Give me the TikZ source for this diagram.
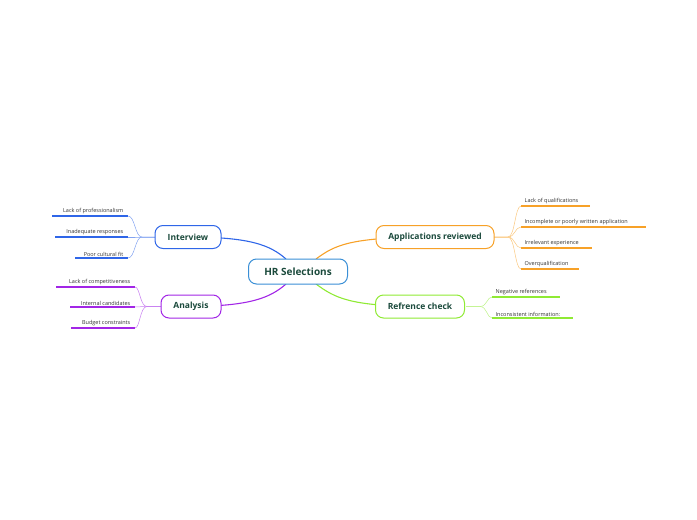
\documentclass[tikz,border=0pt]{standalone}
\usepackage{fontspec}
\setmainfont{Open Sans}
\begin{document}
\begin{tikzpicture}[x=1pt,y=-1pt,
  box/.style={draw,rounded corners=8pt,line width=1pt,fill=white,minimum height=23pt,inner xsep=8pt,font=\fontsize{8.5}{10}\selectfont\bfseries,text=txt},
  leaf/.style={inner sep=1.5pt,font=\fontsize{5.5}{6}\selectfont,text=black!80},
  main/.style={line width=1.1pt},
  sub/.style={line width=0.5pt},
  ul/.style={line width=1.3pt}]
\definecolor{txt}{HTML}{1B4A3C}
\definecolor{cb}{HTML}{2F66E8}
\definecolor{cp}{HTML}{A226E6}
\definecolor{co}{HTML}{F7A128}
\definecolor{cg}{HTML}{8FEA34}
\definecolor{cc}{HTML}{3A8FD6}
\useasboundingbox (0,0) rectangle (697,520);
\coordinate (c1) at (286,259);
\coordinate (c2) at (286,284);
\coordinate (c3) at (316,259);
\coordinate (c4) at (316,284);
\draw[main,cb] (188,237) .. controls (250,237) and (270,245) .. (c1);
\draw[main,cp] (191,306.5) .. controls (250,306) and (270,298) .. (c2);
\draw[main,co] (435,237) .. controls (350,237) and (335,245) .. (c3);
\draw[main,cg] (420,306.5) .. controls (350,306) and (335,298) .. (c4);
% left leaves
\foreach \n/\t/\y/\xa/\xb/\col/\bx/\by in {
  l1/Lack of professionalism/216/52/128/cb/142/237,
  l2/Inadequate responses/237/55/128/cb/142/237,
  l3/Poor cultural fit/258/75/128/cb/142/237,
  l4/Lack of competitiveness/287/56/135/cp/147/306.5,
  l5/Internal candidates/307/70/135/cp/147/306.5,
  l6/Budget constraints/328/71/135/cp/147/306.5}{
  \coordinate (\n a) at (\xa,\y); \coordinate (\n b) at (\xb,\y);
  \coordinate (\n p) at (\bx,\by);
  \node[leaf,anchor=south east] (\n) at (\xb-3,\y) {\t};
  \draw[ul,\col] (\n a) -- (\n b);
  \draw[sub,\col!60] (\bx+14,\by) -- (\n p) .. controls (\bx-7,\by) and (\bx-7,\y) .. (\n b);
}
% right leaves
\foreach \n/\t/\y/\xa/\xb/\col/\bx/\by in {
  r1/Lack of qualifications/206/521/590/co/508/237,
  r2/Incomplete or poorly written application/227/521/646/co/508/237,
  r3/Irrelevant experience/248/521/592/co/508/237,
  r4/Overqualification/269/521/579/co/508/237,
  r5/Negative references/297/492/560/cg/480/306.5,
  r6/Inconsistent information:/318/492/573/cg/480/306.5}{
  \coordinate (\n a) at (\xa,\y); \coordinate (\n b) at (\xb,\y);
  \coordinate (\n p) at (\bx,\by);
  \node[leaf,anchor=south west] (\n) at (\xa+2,\y) {\t};
  \draw[ul,\col] (\n a) -- (\n b);
  \draw[sub,\col!60] (\bx-14,\by) -- (\n p) .. controls (\bx+7,\by) and (\bx+7,\y) .. (\n a);
}
\node[box,draw=cc,minimum width=99pt,minimum height=25pt,font=\fontsize{10}{12}\selectfont\bfseries] (c) at (298,271.5) {HR Selections};
\node[box,draw=cb,minimum width=66pt] (iv) at (188,237) {Interview};
\node[box,draw=cp,minimum width=60pt] (an) at (191,306.5) {Analysis};
\node[box,draw=co,minimum width=118pt] (ap) at (435,237) {Applications reviewed};
\node[box,draw=cg,minimum width=89pt] (rc) at (420,306.5) {Refrence check};
\end{tikzpicture}
\end{document}
